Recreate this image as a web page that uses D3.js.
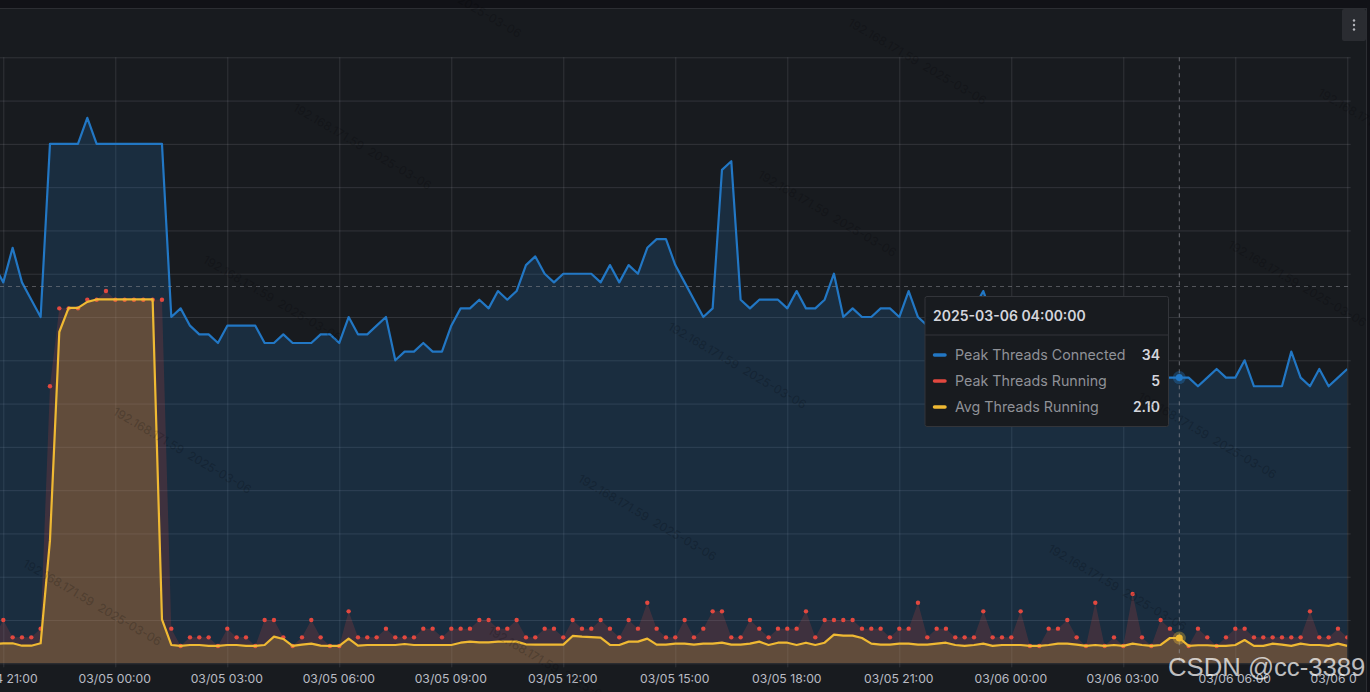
<!DOCTYPE html>
<html>
<head>
<meta charset="utf-8">
<script src="https://cdn.jsdelivr.net/npm/d3@7"></script>
<style>
	html, body { margin: 0; padding: 0; background: #111217; overflow: hidden; }
	svg { display: block; font-family: Inter, "Noto Sans", sans-serif; }
	.grid line { stroke: #ccccdc; stroke-opacity: 0.14; }
	.grid path { display: none; }
	.xlabels path { display: none; }
	.xlabels line { stroke: #ccccdc; stroke-opacity: 0.14; }
	.xlabels text { fill: #b9bbc4; font-size: 12.2px; font-family: Inter, sans-serif; }
</style>
</head>
<body>
<script>
// samples are 15 minutes apart, first one is just left of the picture
var startTime = new Date(2025, 2, 4, 20, 45);
var stepMinutes = 15;

var peakConnected = [
	47,45,49,45,43,41,61,61,61,61,
	64,61,61,61,61,61,61,61,61,41,
	42,40,39,39,38,40,40,40,40,38,
	38,39,38,38,38,39,39,38,41,39,
	39,40,41,36,37,37,38,37,37,40,
	42,42,43,42,44,43,44,47,48,46,
	45,46,46,46,46,45,47,45,47,46,
	49,50,50,47,45,43,41,42,58,59,
	43,42,43,43,43,42,44,42,42,43,
	46,41,42,41,41,42,42,41,44,41,
	40,40,40,40,41,42,44,41,40,39,
	39,38,38,37,37,36,36,35,36,35,
	35,34,35,34,34,34,34,34,34,33,
	34,35,34,34,36,33,33,33,33,37,
	34,33,35,33,34,35
];
var peakRunning = [
	4,6,4,4,4,5,33,42,42,42,
	43,43,44,43,43,43,43,43,43,5,
	3,4,4,4,3,5,4,4,3,6,
	6,4,3,4,6,4,3,3,7,4,
	4,4,5,4,4,4,5,5,4,5,
	5,5,6,6,5,5,6,4,4,5,
	5,4,6,5,5,6,5,4,6,5,
	8,5,4,4,6,4,5,7,7,4,
	4,6,5,4,5,5,5,7,4,6,
	6,6,6,5,5,5,4,5,5,8,
	4,5,5,4,4,4,7,4,4,4,
	7,3,3,5,5,6,4,3,8,3,
	4,3,9,4,3,6,5,4,3,5,
	4,3,4,5,5,4,4,4,4,4,
	4,7,4,4,5,4
];
// avg runs on its own hidden axis
var avgRunning = [
	1.6,1.66,1.66,1.46,1.46,1.66,10.2,27.5,29.5,29.5,
	30,30.2,30.2,30.2,30.2,30.2,30.2,30.2,3.65,1.52,
	1.45,1.52,1.52,1.45,1.45,1.52,1.52,1.45,1.45,1.52,
	2.21,2.02,1.45,1.55,1.63,1.47,1.45,1.45,2.05,1.47,
	1.52,1.52,1.52,1.52,1.6,1.52,1.52,1.52,1.52,1.52,
	1.71,1.8,1.74,1.74,1.8,1.8,1.8,1.57,1.55,1.55,
	1.55,1.55,2.27,2.21,2.18,2.13,1.52,1.52,1.8,1.8,
	2.05,1.55,1.55,1.63,1.63,1.55,1.63,1.63,1.71,1.55,
	1.55,1.63,1.8,1.52,1.71,1.71,1.52,1.71,1.52,1.71,
	2.38,2.3,2.3,2.1,1.63,1.55,1.55,1.63,1.63,1.55,
	1.55,1.63,1.71,1.52,1.45,1.52,1.63,1.45,1.52,1.52,
	1.52,1.45,1.45,1.52,1.63,1.63,1.55,1.45,1.52,1.45,
	1.52,1.45,1.63,1.52,1.45,1.52,2.1,2.1,1.45,1.5,
	1.5,1.45,1.45,1.52,1.93,1.45,1.45,1.63,1.55,1.45,
	1.63,1.52,1.52,1.45,1.63,1.45
];
var seriesNames = ['Peak Threads Connected', 'Peak Threads Running', 'Avg Threads Running'];
var seriesColors = ['#2277c4', '#e2483f', '#efb933'];
var tooltipTitle = '2025-03-06 04:00:00';
var tooltipValues = ['34', '5', '2.10'];
var hoverIndex = 127;
var watermarkText = '192.168.171.59  2025-03-06';

var W = 1370, H = 692;
var plotTop = 57.3, plotBottom = 663.3, plotRight = 1347.3, gridRight = 1350.7;

function timeAt(i) { return d3.timeMinute.offset(startTime, i * stepMinutes); }

var x = d3.scaleTime()
	.domain([new Date(2025, 2, 4, 21), new Date(2025, 2, 6, 9)])
	.range([3.3, plotRight]);
var y = d3.scaleLinear().domain([1, 71]).range([plotBottom, plotTop]);
var yAvg = d3.scaleLinear().domain([0, 50.3]).range([plotBottom, plotTop]);

var svg = d3.select('body').append('svg').attr('width', W).attr('height', H);

svg.append('rect').attr('width', W).attr('height', H).attr('fill', '#111217');
svg.append('rect').attr('x', -2).attr('y', 8.5).attr('width', 1368.5).attr('height', H)
	.attr('fill', '#181b1f').attr('stroke', '#2c2e33');

// panel menu button
svg.append('rect').attr('x', 1342).attr('y', 9).attr('width', 24).attr('height', 32).attr('rx', 2).attr('fill', '#2a2c31');
[-4.5, 0, 4.5].forEach(function(d) {
	svg.append('circle').attr('cx', 1354).attr('cy', 25 + d).attr('r', 1.2).attr('fill', '#b4b5bb');
});

var defs = svg.append('defs');
defs.append('clipPath').attr('id', 'plot').append('rect')
	.attr('x', 0).attr('y', plotTop).attr('width', plotRight).attr('height', plotBottom - plotTop);
defs.append('clipPath').attr('id', 'labels').append('rect')
	.attr('x', 0).attr('y', plotBottom).attr('width', 1357).attr('height', 40);

// grid
svg.append('g').attr('class', 'grid')
	.call(d3.axisLeft(y).tickValues(d3.range(1, 72, 5)).tickSize(-gridRight).tickFormat(''));
svg.append('g').attr('class', 'grid')
	.attr('transform', 'translate(0,' + plotBottom + ')')
	.call(d3.axisBottom(x)
		.tickValues(d3.timeHour.range(new Date(2025, 2, 4, 21), new Date(2025, 2, 6, 10), 3))
		.tickSize(plotTop - plotBottom).tickFormat(''));

var idx = d3.range(peakConnected.length);
var plot = svg.append('g').attr('clip-path', 'url(#plot)');

function drawArea(values, scale, color, opacity) {
	plot.append('path').datum(idx)
		.attr('fill', color).attr('fill-opacity', opacity)
		.attr('d', d3.area()
			.x(function(i) { return x(timeAt(i)); })
			.y0(plotBottom)
			.y1(function(i) { return scale(values[i]); }));
}
function drawLine(values, scale, color) {
	plot.append('path').datum(idx)
		.attr('fill', 'none').attr('stroke', color).attr('stroke-width', 2.2)
		.attr('stroke-linejoin', 'round')
		.attr('d', d3.line()
			.x(function(i) { return x(timeAt(i)); })
			.y(function(i) { return scale(values[i]); }));
}

drawArea(peakConnected, y, seriesColors[0], 0.2);
drawLine(peakConnected, y, seriesColors[0]);

drawArea(peakRunning, y, seriesColors[1], 0.18);
plot.append('g').selectAll('circle').data(idx).enter().append('circle')
	.attr('cx', function(i) { return x(timeAt(i)); })
	.attr('cy', function(i) { return y(peakRunning[i]); })
	.attr('r', 2.2).attr('fill', seriesColors[1]);

drawArea(avgRunning, yAvg, seriesColors[2], 0.2);
drawLine(avgRunning, yAvg, seriesColors[2]);

// x labels
var xl = svg.append('g').attr('clip-path', 'url(#labels)')
	.append('g').attr('class', 'xlabels').attr('transform', 'translate(0,' + plotBottom + ')')
	.call(d3.axisBottom(x)
		.tickValues(d3.timeHour.range(new Date(2025, 2, 4, 21), new Date(2025, 2, 6, 10), 3))
		.tickSize(4).tickPadding(7)
		.tickFormat(d3.timeFormat('%m/%d %H:%M')));
xl.select('.domain').remove();
xl.selectAll('text').attr('dx', -1);

// crosshair
var hoverX = x(timeAt(hoverIndex));
svg.append('line').attr('x1', hoverX).attr('x2', hoverX).attr('y1', plotTop).attr('y2', plotBottom)
	.attr('stroke', '#8e9096').attr('stroke-opacity', 0.7).attr('stroke-dasharray', '4,4');
svg.append('line').attr('x1', 0).attr('x2', gridRight).attr('y1', 286.5).attr('y2', 286.5)
	.attr('stroke', '#8e9096').attr('stroke-opacity', 0.5).attr('stroke-dasharray', '4,4');

[[peakConnected, y, 0], [avgRunning, yAvg, 2]].forEach(function(s) {
	svg.append('circle').attr('cx', hoverX).attr('cy', s[1](s[0][hoverIndex])).attr('r', 6.5)
		.attr('fill', seriesColors[s[2]]).attr('fill-opacity', 0.35);
	svg.append('circle').attr('cx', hoverX).attr('cy', s[1](s[0][hoverIndex])).attr('r', 3.5)
		.attr('fill', seriesColors[s[2]]);
});

// tooltip
var tip = svg.append('g').attr('transform', 'translate(924.5,296.5)');
tip.append('rect').attr('x', 0.5).attr('y', 0).attr('width', 243.5).attr('height', 130).attr('rx', 2)
	.attr('fill', '#181b1f').attr('stroke', '#33353a');
tip.append('line').attr('x1', 0.5).attr('x2', 244).attr('y1', 38.5).attr('y2', 38.5).attr('stroke', '#33353a');
tip.append('text').attr('x', 8.5).attr('y', 24).attr('font-size', 14).attr('font-weight', 600)
	.attr('fill', '#d4d5dc').text(tooltipTitle);
seriesNames.forEach(function(name, i) {
	var rowY = 58.5 + i * 26;
	tip.append('line').attr('x1', 10).attr('x2', 20.5).attr('y1', rowY).attr('y2', rowY)
		.attr('stroke', seriesColors[i]).attr('stroke-width', 3.5).attr('stroke-linecap', 'round');
	tip.append('text').attr('x', 30.5).attr('y', rowY + 5).attr('font-size', 14.25)
		.attr('fill', '#8f9197').text(name);
	tip.append('text').attr('x', 235.5).attr('y', rowY + 5).attr('font-size', 14).attr('font-weight', 600)
		.attr('text-anchor', 'end').attr('fill', '#d4d5dc').text(tooltipValues[i]);
});

// legend, cut off by the bottom of the screenshot
svg.append('text').attr('x', 1122).attr('y', 702.5).attr('font-size', 14).attr('fill', '#6e9fff').text(seriesNames[0]);

// grey diagonal watermark lanes
[[22, 566], [487, 633], [957, 703]].forEach(function(lane) {
	d3.range(0, 6).forEach(function(k) {
		var px = lane[0] + k * 90, py = lane[1] - k * 152;
		svg.append('text').attr('transform', 'translate(' + px + ',' + py + ') rotate(30.5)')
			.attr('font-size', 12).attr('font-weight', 500).attr('fill', '#000').attr('fill-opacity', 0.18)
			.style('white-space', 'pre').text(watermarkText);
	});
});

// CSDN stamp
svg.append('text').attr('x', 1168).attr('y', 676).attr('font-size', 25.7)
	.attr('font-family', '"Liberation Sans", Arial, sans-serif')
	.attr('fill', '#fff').attr('fill-opacity', 0.72).text('CSDN @cc-3389');
</script>
</body>
</html>
